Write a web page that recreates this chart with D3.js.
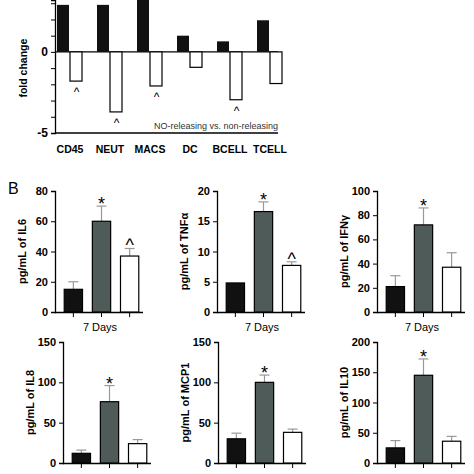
<!DOCTYPE html>
<html><head><meta charset="utf-8">
<script src="https://cdn.jsdelivr.net/npm/d3@7"></script>
<style>body{margin:0;background:#fff}text{font-family:Arial,"Liberation Sans",sans-serif}</style>
</head><body>
<script>
// Panel A data
const cells = ["CD45", "NEUT", "MACS", "DC", "BCELL", "TCELL"];
const foldNO = [2.9, 2.9, 3.3, 1.0, 0.65, 1.95];
const foldNon = [-1.8, -3.7, -2.1, -0.95, -2.95, -1.95];
const caretA = [true, true, true, false, true, false];

// Panel B data
const groups = ["a", "b", "c"];
const panels = [
  {label: "pg/mL of IL6",   max: 80,  ticks: [0,20,40,60,80],      mean: [15,60,37],    err: [5,10,5],    marks: ["","*","^"]},
  {label: "pg/mL of TNF\u03b1", max: 20, ticks: [0,5,10,15,20],   mean: [4.8,16.6,7.7], err: [0,1.6,0.6], marks: ["","*","^"]},
  {label: "pg/mL of IFN\u03b3", max: 100, ticks: [0,20,40,60,80,100], mean: [21,72,37], err: [9,14,12],   marks: ["","*",""]},
  {label: "pg/mL of IL8",   max: 150, ticks: [0,50,100,150],       mean: [12,76,24],    err: [4,20,5],    marks: ["","*",""]},
  {label: "pg/mL of MCP1",  max: 150, ticks: [0,50,100,150],       mean: [30,100,38],   err: [7,9,4],     marks: ["","*",""]},
  {label: "pg/mL of IL10",  max: 200, ticks: [0,50,100,150,200],   mean: [25,145,36],   err: [12,27,8],   marks: ["","*",""]}
];
const fills = ["#111", "#4e5b59", "#fff"];

const svg = d3.select("body").append("svg").attr("width", 474).attr("height", 474);

// ---- Panel A ----
const yA = d3.scaleLinear().domain([-5, 3.2]).range([133, 0]);
const xA = d3.scaleBand().domain(cells).range([55, 285]).paddingInner(0.35).paddingOuter(0.05);
const gA = svg.append("g");
gA.append("g").attr("transform", "translate(55,0)")
  .call(d3.axisLeft(yA).tickValues([-5,-4,-3,-2,-1,0,1,2,3]).tickSize(4).tickFormat(d => (d === 0 || d === -5) ? d : ""))
  .call(g => g.select(".domain").attr("stroke-width", 1.3))
  .call(g => g.selectAll("text").style("font-size", "12px").style("font-weight", "bold"));
gA.append("line").attr("x1", 55).attr("x2", 278).attr("y1", yA(0)).attr("y2", yA(0)).attr("stroke", "#000").attr("stroke-width", 1.3);
gA.append("line").attr("x1", 55).attr("x2", 278).attr("y1", yA(-5)).attr("y2", yA(-5)).attr("stroke", "#000").attr("stroke-width", 1.3);
const bw = xA.bandwidth() / 2;
gA.selectAll(".bn").data(cells).join("rect")
  .attr("x", d => xA(d)).attr("width", bw - 1)
  .attr("y", (d, i) => yA(foldNO[i])).attr("height", (d, i) => yA(0) - yA(foldNO[i]))
  .attr("fill", "#111");
gA.selectAll(".bw").data(cells).join("rect")
  .attr("x", d => xA(d) + bw).attr("width", bw - 1)
  .attr("y", yA(0)).attr("height", (d, i) => yA(foldNon[i]) - yA(0))
  .attr("fill", "#fff").attr("stroke", "#000").attr("stroke-width", 1.2);
gA.selectAll(".ca").data(cells).join("text")
  .attr("x", d => xA(d) + bw * 1.5).attr("y", (d, i) => yA(foldNon[i]) + 15)
  .attr("text-anchor", "middle").style("font-size", "12px")
  .text((d, i) => caretA[i] ? "^" : "");
gA.selectAll(".cl").data(cells).join("text")
  .attr("x", d => xA(d) + bw).attr("y", 153).attr("text-anchor", "middle")
  .style("font-size", "10.5px").style("font-weight", "bold").text(d => d);
gA.append("text").attr("transform", `translate(27,${yA(-1)}) rotate(-90)`).attr("text-anchor", "middle")
  .style("font-size", "10.5px").style("font-weight", "bold").text("fold change");
gA.append("text").attr("x", 278).attr("y", 129).attr("text-anchor", "end").style("font-size", "9px").attr("fill", "#333")
  .text("NO-releasing vs. non-releasing");

// ---- Panel B ----
svg.append("text").attr("x", 8).attr("y", 194).style("font-size", "16px").text("B");
const pos = [[55,191,312],[217,191,312],[377,191,312],[63,342,463],[218,342,463],[377,342,463]];
panels.forEach((p, k) => {
  const [x0, yt, yb] = pos[k];
  const y = d3.scaleLinear().domain([0, p.max]).range([yb, yt]);
  const x = d3.scaleBand().domain(groups).range([x0 + 5, x0 + 88]).paddingInner(0.35).paddingOuter(0.15);
  const g = svg.append("g");
  g.append("g").attr("transform", `translate(${x0},0)`)
    .call(d3.axisLeft(y).tickValues(p.ticks).tickSize(4))
    .call(a => a.select(".domain").attr("stroke-width", 1.3))
    .call(a => a.selectAll("text").style("font-size", "11px").style("font-weight", "bold"));
  g.append("g").attr("transform", `translate(0,${yb})`)
    .call(d3.axisBottom(x).tickSize(5).tickFormat("").tickSizeOuter(0))
    .call(a => a.select(".domain").attr("d", `M${x0},0.5H${x0 + 88}`).attr("stroke-width", 1.3));
  g.selectAll(".eb").data(groups).join("line")
    .attr("x1", d => x(d) + x.bandwidth() / 2).attr("x2", d => x(d) + x.bandwidth() / 2)
    .attr("y1", (d, i) => y(p.mean[i])).attr("y2", (d, i) => y(p.mean[i] + p.err[i]))
    .attr("stroke", "#999").attr("stroke-width", 1.2);
  g.selectAll(".ec").data(groups).join("line")
    .attr("x1", d => x(d) + x.bandwidth() / 2 - 5).attr("x2", d => x(d) + x.bandwidth() / 2 + 5)
    .attr("y1", (d, i) => y(p.mean[i] + p.err[i])).attr("y2", (d, i) => y(p.mean[i] + p.err[i]))
    .attr("stroke", (d, i) => p.err[i] ? "#999" : "none").attr("stroke-width", 1.2);
  g.selectAll(".br").data(groups).join("rect")
    .attr("x", d => x(d)).attr("width", x.bandwidth())
    .attr("y", (d, i) => y(p.mean[i])).attr("height", (d, i) => yb - y(p.mean[i]))
    .attr("fill", (d, i) => fills[i]).attr("stroke", "#000").attr("stroke-width", 1.2);
  g.selectAll(".mk").data(groups).join("text")
    .attr("x", d => x(d) + x.bandwidth() / 2)
    .attr("y", (d, i) => y(p.mean[i] + p.err[i]) + (p.marks[i] === "*" ? 4 : 3))
    .attr("text-anchor", "middle").style("font-size", "18px")
    .text((d, i) => p.marks[i]);
  g.append("text").attr("transform", `translate(${x0 - 29},${(yt + yb) / 2}) rotate(-90)`).attr("text-anchor", "middle")
    .style("font-size", "11px").style("font-weight", "bold").text(p.label);
  if (k < 3) g.append("text").attr("x", x0 + 45).attr("y", 331).attr("text-anchor", "middle")
    .style("font-size", "11px").text("7 Days");
});
</script>
</body></html>
